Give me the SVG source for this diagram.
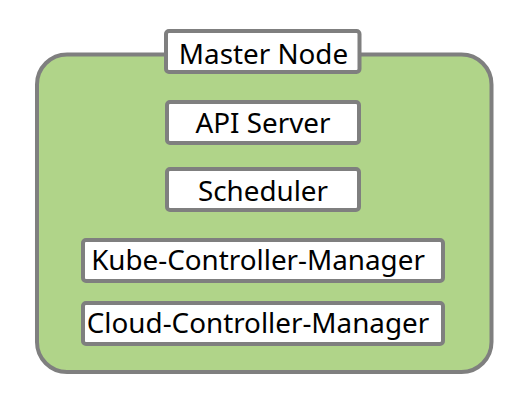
<svg xmlns="http://www.w3.org/2000/svg" width="528" height="413" viewBox="0 0 528 413">
<style>
.box{fill:#ffffff;stroke:#7f7f7f;stroke-width:4}
.t{font-family:"Noto Sans","Open Sans",sans-serif;font-size:27.8px;fill:#000;text-anchor:middle}
</style>
<rect x="0" y="0" width="528" height="413" fill="#ffffff"/>
<g id="master">
<rect x="37" y="54.5" width="454.5" height="317.5" rx="30" ry="30" fill="#b0d489" stroke="#7f7f7f" stroke-width="4"/>
<rect class="box" x="166" y="31" width="193.5" height="41" rx="3"/>
<text class="t" x="263.5" y="64">Master Node</text>
</g>
<g id="api-server">
<rect class="box" x="167" y="102" width="192" height="41" rx="3"/>
<text class="t" x="263" y="133">API Server</text>
</g>
<g id="scheduler">
<rect class="box" x="167" y="169" width="192" height="41" rx="3"/>
<text class="t" x="263" y="201">Scheduler</text>
</g>
<g id="kcm">
<rect class="box" x="83" y="240" width="360" height="41" rx="3"/>
<text class="t" x="258" y="270">Kube-Controller-Manager</text>
</g>
<g id="ccm">
<rect class="box" x="83" y="303" width="360" height="41" rx="3"/>
<text class="t" x="258" y="333">Cloud-Controller-Manager</text>
</g>
<g id="connectors"/>
</svg>
